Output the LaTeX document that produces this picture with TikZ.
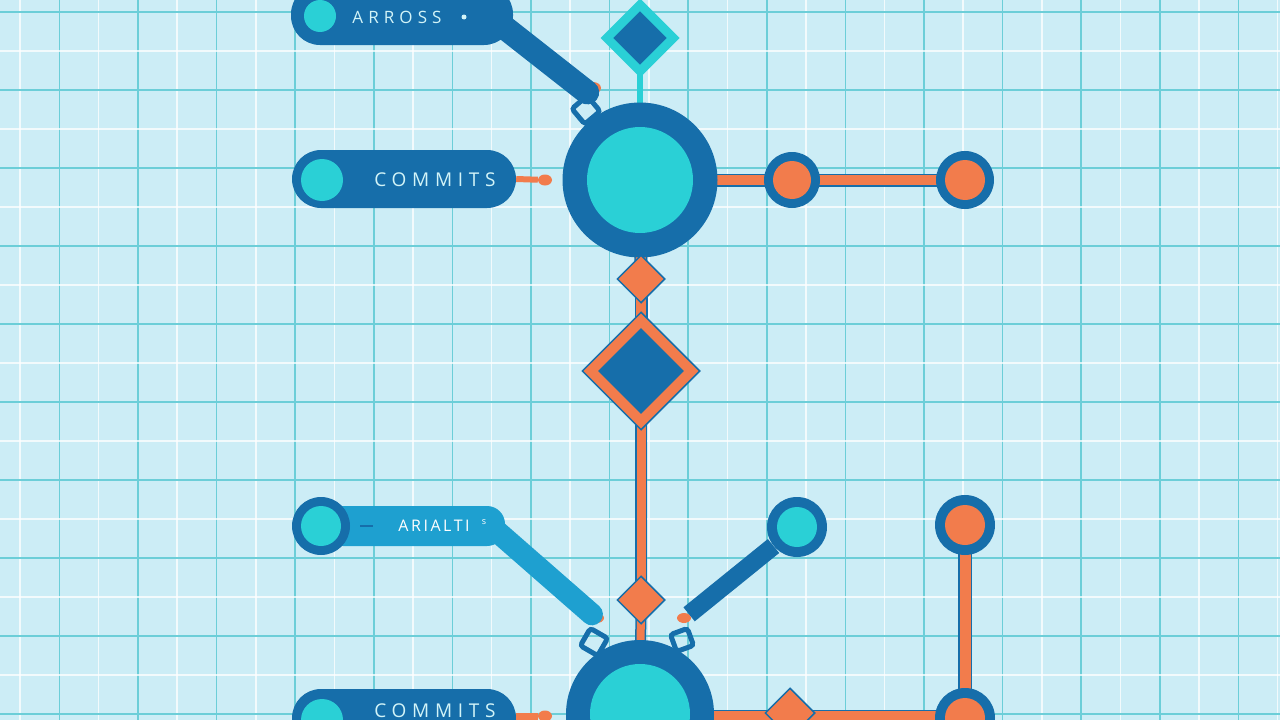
\documentclass[tikz,border=0pt]{standalone}
\usepackage{fontspec}
\newfontfamily\lblfont[LetterSpace=30]{Open Sans}
\newfontfamily\smlfont[LetterSpace=16]{Open Sans}
\usetikzlibrary{shapes.geometric}
\pgfdeclarelayer{gridlayer}
\pgfdeclarelayer{linklayer}
\pgfsetlayers{gridlayer,linklayer,main}
\definecolor{bg}{RGB}{204,237,246}
\definecolor{gridteal}{RGB}{108,206,216}
\definecolor{dblue}{RGB}{22,110,170}
\definecolor{tealc}{RGB}{42,208,214}
\definecolor{orng}{RGB}{242,124,76}
\definecolor{cyanb}{RGB}{30,160,208}
\definecolor{txtc}{RGB}{210,244,248}
\tikzset{
  ring/.style={circle, fill=dblue, inner sep=0pt},
  core/.style={circle, inner sep=0pt},
  pill/.style={rectangle, rounded corners=29pt, fill=dblue, inner sep=0pt},
  lbl/.style={text=txtc, inner sep=0pt, font=\lblfont\fontsize{19}{19}\selectfont},
  oline/.style={line width=#1, orng, preaction={draw=dblue, line width=#1+3pt}},
  clasp/.style={draw=dblue, line width=5pt, rounded corners=3pt, minimum size=20pt, inner sep=0pt},
  blob/.style={ellipse, fill=orng, inner sep=0pt, minimum width=16pt, minimum height=12pt},
  odiam/.style={diamond, aspect=1, fill=orng, draw=dblue, line width=1.5pt, inner sep=0pt}
}
\begin{document}
\begin{tikzpicture}[x=1pt,y=-1pt]
\useasboundingbox (0,0) rectangle (1280,720);
\begin{pgfonlayer}{gridlayer}
\fill[bg] (0,0) rectangle (1280,720);
\foreach \i in {0,...,32}{
  \pgfmathsetmacro\xx{20+39.3*\i}
  \ifodd\i
    \draw[gridteal, line width=1.6pt] (\xx,0) -- (\xx,720);
  \else
    \draw[white, opacity=0.75, line width=1.6pt] (\xx,0) -- (\xx,720);
  \fi
}
\foreach \i in {0,...,18}{
  \pgfmathsetmacro\yy{12+39*\i}
  \ifodd\i
    \draw[white, opacity=0.75, line width=1.6pt] (0,\yy) -- (1280,\yy);
  \else
    \draw[gridteal, line width=1.6pt] (0,\yy) -- (1280,\yy);
  \fi
}
\end{pgfonlayer}

% ---------- top part ----------
\node[ring, minimum size=155pt] (c1) at (640,180) {};
\node[core, fill=tealc, minimum size=106pt] (c1i) at (c1) {};
\node[diamond, aspect=1, fill=dblue, draw=tealc, line width=9pt, minimum size=70pt, inner sep=0pt] (d0) at (640,38) {};
\begin{pgfonlayer}{linklayer}
\draw[tealc, line width=6pt] (d0.center) -- (c1.center);
\end{pgfonlayer}

% ARROSS pill
\coordinate (armA) at (495,20);
\node[clasp, rotate=40] (k1) at (586,110) {};
\node[blob] (b1) at (593,88) {};
\draw[dblue, line width=24pt, line cap=round] (armA) -- (b1.south west);
\node[pill, minimum width=222pt, minimum height=60pt] (p0) at (402,15) {};
\node[core, fill=tealc, minimum size=32pt] (p0c) at (320,16) {};
\node[lbl, font=\lblfont\fontsize{17}{17}\selectfont] (t0) at (397,17) {ARROSS};
\node[circle, fill=txtc, inner sep=0pt, minimum size=5pt] (t0d) at (464,17) {};

% COMMITS pill 1
\node[pill, minimum width=224pt, minimum height=58pt] (p1) at (404,179) {};
\node[core, fill=tealc, minimum size=42pt] (p1c) at (322,180) {};
\node[lbl] (t1) at (435,180) {COMMITS};
\node[blob, minimum width=14pt, minimum height=11pt] (b2) at (545,180) {};
\draw[orng, line width=6pt] (p1.east) -- (b2);

% right chain
\node[ring, minimum size=56pt] (r1) at (792,180) {};
\node[ring, minimum size=58pt] (r2) at (965,180) {};
\node[core, fill=orng, minimum size=38pt] (r1i) at (r1) {};
\node[core, fill=orng, minimum size=40pt] (r2i) at (r2) {};
\begin{pgfonlayer}{linklayer}
\draw[oline=10pt] (c1.center) -- (r1.center);
\draw[oline=10pt] (r1.center) -- (r2.center);
\end{pgfonlayer}

% diamonds below
\node[odiam, minimum size=48pt] (d1) at (641,279) {};
\node[diamond, aspect=1, fill=orng, draw=dblue, line width=1.5pt, minimum size=118pt, inner sep=0pt] (d2) at (641,371) {};
\node[diamond, aspect=1, fill=dblue, minimum size=86pt, inner sep=0pt] (d2i) at (d2) {};
\node[odiam, minimum size=48pt] (d3) at (641,600) {};
\begin{pgfonlayer}{linklayer}
\draw[oline=10pt] (c1.center) -- (d1.center);
\draw[oline=10pt] (d1.center) -- (d2.center);
\draw[oline=9pt] (d2.center) -- (d3.center);
\end{pgfonlayer}

% ---------- bottom part ----------
\node[ring, minimum size=148pt] (c2) at (640,714) {};
\node[core, fill=tealc, minimum size=100pt] (c2i) at (c2) {};
\begin{pgfonlayer}{linklayer}
\draw[oline=8pt] (d3.center) -- (c2.center);
\end{pgfonlayer}

% bottom-left pill (cyan)
\node[clasp, rotate=-30] (k2) at (594,642) {};
\node[blob, minimum width=14pt, minimum height=10pt] (b3) at (597,618) {};
\node[rectangle, rounded corners=18pt, fill=cyanb, minimum width=180pt, minimum height=40pt, inner sep=0pt] (p2) at (415,526) {};
\coordinate (armB) at (492,527);
\draw[cyanb, line width=22pt, line cap=round] (armB) -- (b3.north west);
\node[ring, minimum size=58pt] (p2o) at (321,526) {};
\node[core, fill=tealc, minimum size=40pt] (p2c) at (p2o) {};
\draw[dblue, line width=2.5pt] (p2o.east) ++(10,0) coordinate (q1) -- ++(13,0) coordinate (q2);
\node[text=white, inner sep=0pt, font=\smlfont\fontsize{16}{16}\selectfont] (t2) at (434,526) {ARIALTI};
\node[text=white, inner sep=0pt, font=\smlfont\fontsize{9}{9}\selectfont] (t2s) at (484,522) {s};

% bottom right arm
\node[ring, minimum size=60pt] (r3) at (797,527) {};
\node[clasp, rotate=20, minimum size=18pt] (k3) at (682,640) {};
\node[blob, minimum width=14pt, minimum height=10pt] (b4) at (684,618) {};
\draw[dblue, line width=18pt] (r3) -- (b4.north east);
\node[core, fill=tealc, minimum size=40pt] (r3i) at (r3) {};

% right column
\node[ring, minimum size=60pt] (r4) at (965,525) {};
\node[ring, minimum size=60pt] (r5) at (965,718) {};
\node[core, fill=orng, minimum size=40pt] (r4i) at (r4) {};
\node[core, fill=orng, minimum size=40pt] (r5i) at (r5) {};
\begin{pgfonlayer}{linklayer}
\draw[oline=11pt] (r4.center) -- (r5.center);
\end{pgfonlayer}

% bottom orange line with peak
\node[odiam, minimum size=50pt] (d4) at (790,713) {};
\begin{pgfonlayer}{linklayer}
\draw[oline=10pt] (c2.center |- 0,716) -- (r5.center |- 0,716);
\end{pgfonlayer}

% COMMITS pill 2
\node[pill, minimum width=224pt, minimum height=58pt] (p3) at (404,718) {};
\node[core, fill=tealc, minimum size=42pt] (p3c) at (322,720) {};
\node[lbl] (t3) at (435,711) {COMMITS};
\node[blob, minimum width=14pt, minimum height=11pt] (b5) at (545,716) {};
\draw[orng, line width=7pt] (p3.east |- b5) -- (b5);
\end{tikzpicture}
\end{document}
